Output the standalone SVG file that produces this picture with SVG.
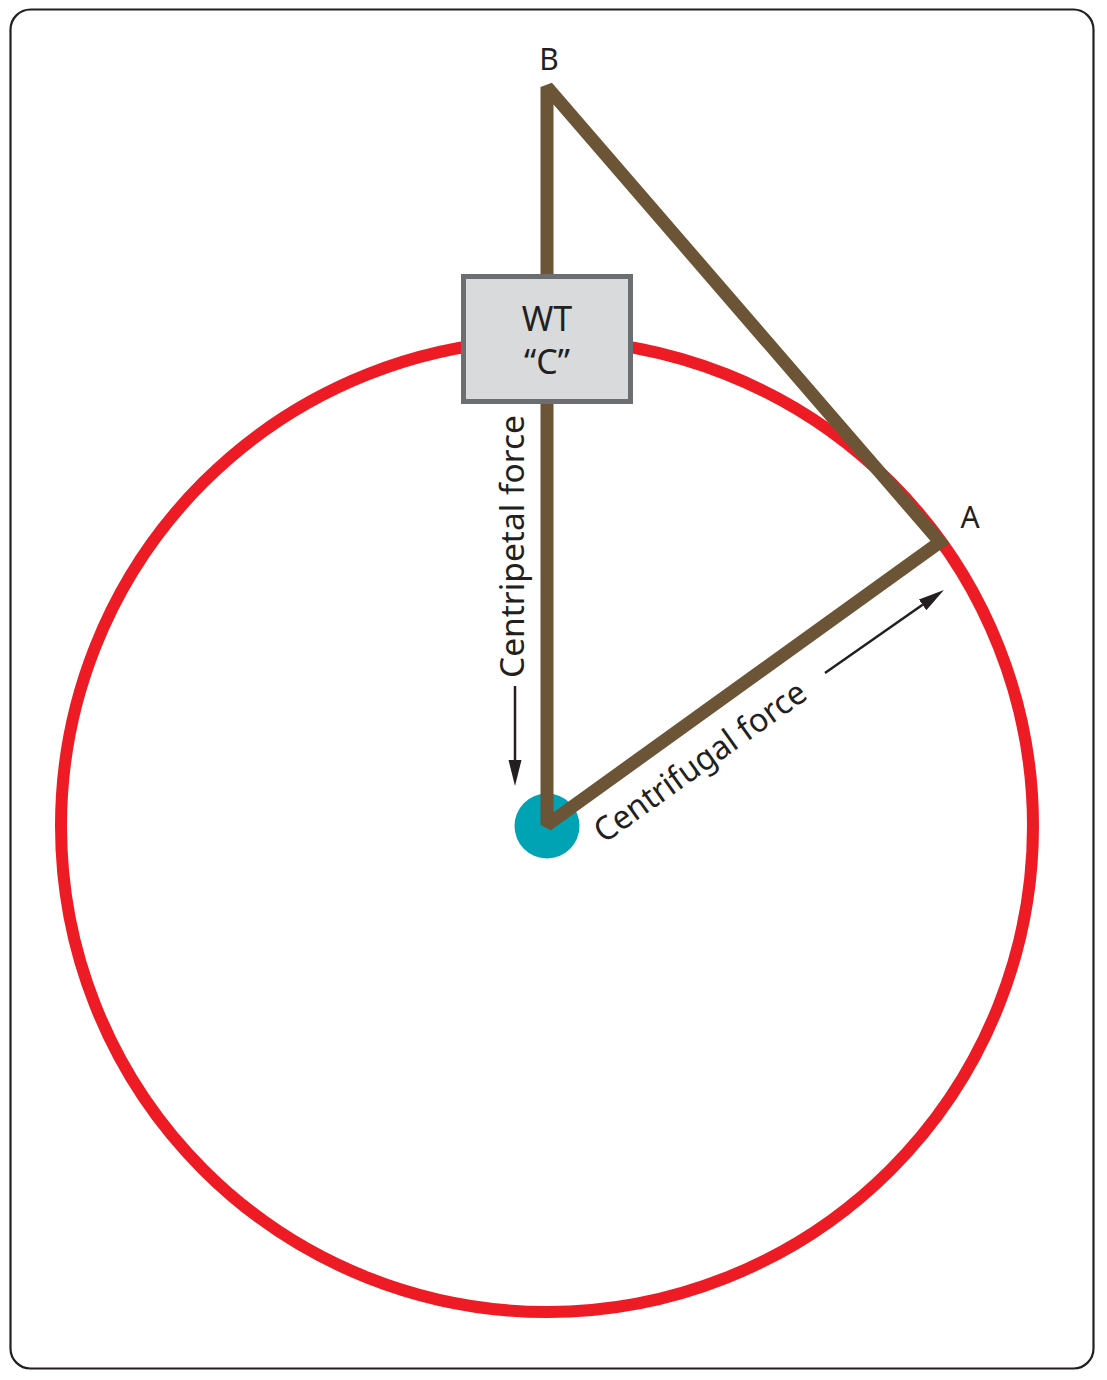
<svg xmlns="http://www.w3.org/2000/svg" width="1107" height="1380" viewBox="0 0 1107 1380">
  <style>
    .lbl { font-family: "Noto Sans", "Open Sans", sans-serif; fill: #231f20; }
    .arrow { stroke: #231f20; stroke-width: 2.5; fill: none; }
  </style>
  <defs>
    <marker id="head" markerUnits="userSpaceOnUse" markerWidth="27" markerHeight="14" refX="0" refY="6.5" orient="auto" viewBox="0 0 27 14">
      <path d="M0,0 L26,6.5 L0,13 Z" fill="#231f20"/>
    </marker>
  </defs>
  <rect x="0" y="0" width="1107" height="1380" fill="#ffffff"/>
  <rect id="frame" x="10.5" y="9.5" width="1083" height="1359" rx="20" ry="20" fill="none" stroke="#231f20" stroke-width="2.2"/>

  <g id="orbit">
    <circle cx="547" cy="826" r="486" fill="none" stroke="#ed1c24" stroke-width="12"/>
  </g>

  <g id="hub">
    <circle cx="547" cy="826" r="32.5" fill="#00a3b4"/>
  </g>

  <g id="connectors">
    <path d="M547,825 L547,87 L940,542 Z" fill="none" stroke="#6b5536" stroke-width="13" stroke-linejoin="miter" stroke-miterlimit="1.8"/>
    <line class="arrow" x1="515" y1="686" x2="515" y2="760" marker-end="url(#head)"/>
    <line class="arrow" x1="825" y1="673" x2="922.6" y2="604.8" marker-end="url(#head)"/>
  </g>

  <g id="weight">
    <rect x="463.5" y="276.5" width="167" height="125" fill="#d9dadb" stroke="#6d6e71" stroke-width="5"/>
    <text class="lbl" x="547" y="331" font-size="34" text-anchor="middle">WT</text>
    <text class="lbl" x="547" y="374" font-size="34" text-anchor="middle">“C”</text>
  </g>

  <g id="pointB">
    <text class="lbl" x="549" y="70" font-size="30" text-anchor="middle">B</text>
  </g>
  <g id="pointA">
    <text class="lbl" x="970" y="528" font-size="30" text-anchor="middle">A</text>
  </g>

  <g id="label-centripetal">
    <text class="lbl" transform="translate(524,678) rotate(-90)" x="0" y="0" font-size="33" textLength="263" lengthAdjust="spacingAndGlyphs">Centripetal force</text>
  </g>
  <g id="label-centrifugal">
    <text class="lbl" transform="translate(604,844) rotate(-35.5)" x="0" y="0" font-size="33" textLength="252" lengthAdjust="spacingAndGlyphs">Centrifugal force</text>
  </g>
</svg>
